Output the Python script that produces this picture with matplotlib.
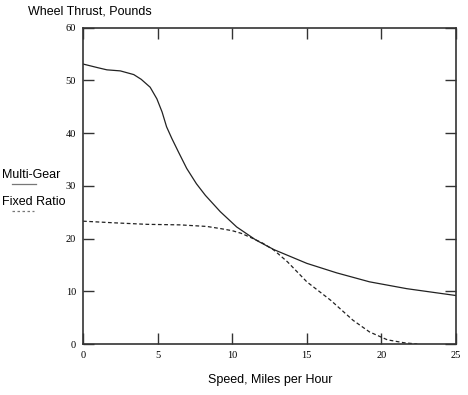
import matplotlib
matplotlib.use("Agg")
import matplotlib.pyplot as plt
from matplotlib.lines import Line2D

# multi-gear curve
multi_speed = [0, 1.0, 1.6, 2.5, 3.4, 3.9, 4.5, 4.95, 5.3, 5.6, 5.95, 6.4, 6.95,
               7.6, 8.2, 9.2, 10.3, 11.6, 12.8, 15.0, 17.0, 19.2, 21.7, 25.0]
multi_thrust = [53.1, 52.4, 52.0, 51.8, 51.1, 50.2, 48.7, 46.5, 44.0, 41.2, 39.0,
                36.4, 33.3, 30.4, 28.2, 25.1, 22.2, 19.7, 17.9, 15.3, 13.5, 11.8,
                10.5, 9.2]

# fixed ratio curve
fixed_speed = [0, 2.0, 4.3, 6.5, 8.3, 9.2, 10.0, 10.6, 11.4, 12.0, 12.8, 13.7,
               15.0, 16.6, 18.1, 19.2, 20.4, 21.5, 22.4]
fixed_thrust = [23.3, 23.0, 22.7, 22.6, 22.3, 21.9, 21.5, 21.0, 20.0, 19.2, 17.8,
                15.6, 11.8, 8.3, 4.5, 2.3, 0.8, 0.25, 0.0]

xticks = [0, 5, 10, 15, 20, 25]
yticks = [0, 10, 20, 30, 40, 50, 60]

fig = plt.figure(figsize=(4.68, 3.95), dpi=100)
ax = fig.add_axes([0.1774, 0.129, 0.797, 0.801])

ax.plot(multi_speed, multi_thrust, color="#222222", lw=0.9)
ax.plot(fixed_speed, fixed_thrust, color="#222222", lw=0.9, ls=(0, (3, 2)))

ax.set_xlim(0, 25)
ax.set_ylim(0, 60)
ax.set_xticks(xticks)
ax.set_yticks(yticks)
ax.tick_params(direction="in", length=8, width=1, color="#333333",
               top=True, right=True, labelsize=7.5, pad=5)
for lab in ax.get_xticklabels() + ax.get_yticklabels():
    lab.set_family("Liberation Serif")
for sp in ax.spines.values():
    sp.set_color("#333333")
    sp.set_linewidth(1.2)

fig.text(28 / 468, 1 - 12 / 395, "Wheel Thrust, Pounds", fontsize=9,
         family="Liberation Sans", va="center", ha="left")
fig.text(270 / 468, 1 - 380 / 395, "Speed, Miles per Hour", fontsize=9,
         family="Liberation Sans", va="center", ha="center")

# legend on the left, text with a line sample below
fig.text(2 / 468, 1 - 175 / 395, "Multi-Gear", fontsize=9,
         family="Liberation Sans", va="center", ha="left")
fig.text(2 / 468, 1 - 202 / 395, "Fixed Ratio", fontsize=9,
         family="Liberation Sans", va="center", ha="left")
fig.add_artist(Line2D([12 / 468, 36 / 468], [1 - 184 / 395, 1 - 184 / 395],
                      color="#777777", lw=0.9, transform=fig.transFigure))
fig.add_artist(Line2D([12 / 468, 34 / 468], [1 - 211 / 395, 1 - 211 / 395],
                      color="#777777", lw=0.9, ls=(0, (2, 2)),
                      transform=fig.transFigure))

fig.savefig("out.png", dpi=100)
